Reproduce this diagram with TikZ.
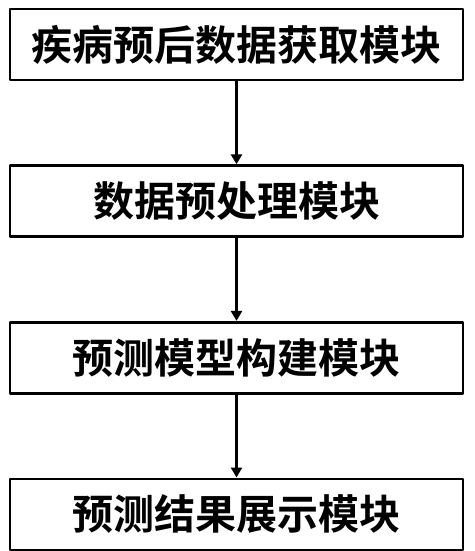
\documentclass[tikz,border=0pt]{standalone}
\usepackage{fontspec}
\newfontfamily\cjk{Noto Sans CJK SC Bold}
\usetikzlibrary{positioning,arrows.meta}

\begin{document}
\begin{tikzpicture}[line cap=round, line join=round, x=1pt, y=1pt,
    modbox/.style={draw, line width=2.6pt, minimum width=453pt, minimum height=71pt,
        inner sep=0pt, font=\cjk\fontsize{41}{43}\selectfont},
    flowarrow/.style={line width=2.6pt, -{Triangle[length=10pt,width=11pt]}},
    node distance=83pt]
                \useasboundingbox (0,0) rectangle (474,-551);
                \node[modbox] (acq) at (236.5,-44.5) {疾病预后数据获取模块};
                \node[modbox, below=of acq] (pre) {数据预处理模块};
                \node[modbox, below=of pre] (model) {预测模型构建模块};
                \node[modbox, below=of model] (show) {预测结果展示模块};
                \foreach \from/\to in {acq/pre, pre/model, model/show}
                    \draw[flowarrow] (\from) -- (\to);
            \end{tikzpicture}
\end{document}
